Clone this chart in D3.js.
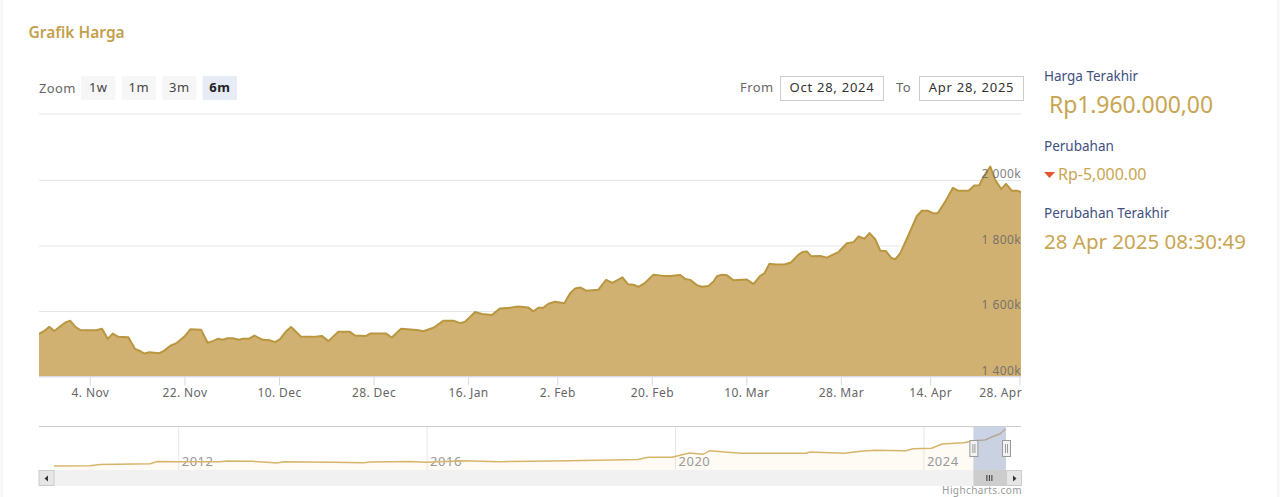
<!DOCTYPE html>
<html><head><meta charset="utf-8">
<script src="https://cdn.jsdelivr.net/npm/d3@7"></script>
<style>
html,body{margin:0;padding:0;background:#f7f7f7;overflow:hidden}
svg{display:block}
text{font-family:"Noto Sans",sans-serif}
.axis path{display:none}
</style></head><body><svg id="c" width="1280" height="497"></svg>
<script>
const sessionIndex=[0,1.31,2.26,3.21,4.49,5.44,6.26,7.21,8.17,9.25,11.16,12.3,13.39,14.34,15.4,17.31,18.59,19.4,20.36,21.31,23.21,24.17,25.31,26.4,27.98,29.12,31.16,32.43,33.39,34.34,35.29,36.24,37.2,38.34,39.21,40.24,41.31,42.91,44.17,45.25,46.2,47.35,48.3,50.15,52.55,54.15,55.41,57.31,59.41,60.49,62.59,63.35,66.4,67.48,69.25,72.24,73.5,75.4,77.31,79.35,80.49,81.44,83.35,84.62,86.53,88.11,90.01,91.6,93.44,94.45,95.41,96.36,97.31,98.59,100.36,101.44,102.4,103.35,104.49,106.83,108.3,109.5,111.4,112.43,113.5,114.45,115.72,117.31,118.91,120.5,122.4,123.35,124.3,125.58,126.53,127.79,128.75,129.39,130.34,131.3,132.55,135.1,136.36,137.63,138.45,139.4,140.49,142.4,143.49,144.93,145.69,146.53,147.35,149.06,150.34,151.6,152.55,154.15,155.41,156.36,157.5,158.45,159.54,160.5,161.58,162.59,163.35,164.3,165.88,167.48,168.43,169.58,170.64,171.48,172.87,174.34,175.4,177.31,178.4,179.35,180.17,181.45,182.4,183.54,184.44,185.58,186.53,187.48];
const priceK=[1528,1539,1552,1539,1555,1566,1570,1552,1542,1541,1541,1546,1515,1531,1521,1520,1484,1479,1470,1474,1471,1479,1494,1501,1522,1544,1543,1503,1508,1515,1512,1517,1517,1512,1515,1515,1525,1512,1511,1505,1514,1538,1551,1522,1521,1524,1508,1537,1537,1525,1524,1531,1531,1519,1546,1542,1538,1549,1570,1570,1563,1567,1597,1591,1588,1608,1610,1614,1611,1599,1610,1610,1622,1628,1624,1654,1669,1672,1662,1665,1695,1686,1703,1682,1680,1674,1686,1711,1708,1707,1710,1698,1695,1679,1674,1676,1690,1706,1711,1709,1694,1696,1682,1707,1715,1744,1742,1743,1748,1772,1780,1782,1767,1768,1763,1773,1780,1807,1810,1828,1821,1838,1819,1784,1783,1762,1758,1776,1832,1890,1906,1906,1898,1899,1934,1976,1967,1967,1983,1984,2010,2041,2000,1972,1988,1967,1967,1962];
const xTickIndex=[10,28,46,64,82,99,117,135,153,170,187];
const xTickLabels=["4. Nov","22. Nov","10. Dec","28. Dec","16. Jan","2. Feb","20. Feb","10. Mar","28. Mar","14. Apr","28. Apr"];
const yTicks=[1400,1600,1800,2000];
const yTickLabels=["1 400k","1 600k","1 800k","2 000k"];
const navYears=[2010,2010.58,2010.74,2011.55,2011.66,2011.98,2012.67,2012.79,2013.2,2013.43,2013.59,2013.69,2014.49,2014.98,2015.09,2015.73,2016,2016.59,2017.18,2018.29,2019.4,2019.57,2019.95,2020.23,2020.45,2020.56,2021.06,2021.61,2022.11,2022.17,2022.72,2022.99,2023.22,2023.72,2023.83,2024.13,2024.3,2024.65,2024.8,2024.99,2025.15,2025.23,2025.32];
const navPrices=[480,492,540,572,660,652,652,680,668,628,600,652,628,612,640,660,628,692,652,692,740,828,828,1000,948,1092,988,988,988,1040,988,1068,1108,1092,1172,1188,1360,1412,1492,1520,1692,1760,1960];
const navTickYears=[2012,2016,2020,2024];
const rangeButtons=["1w","1m","3m","6m"];

const gold="#c9a552",goldLine="#b9963f",goldFill="#ceae6d",navy="#41507f",grey="#666";
const svg=d3.select("#c");
const M={l:39,r:1021,t:114,b:376.5};
const N={l:39,r:1021,t:427,b:470,sl:54,sr:1006};

// card
svg.append("rect").attr("x",3).attr("y",-20).attr("width",1274).attr("height",540).attr("rx",18).attr("fill","#fff");
svg.append("text").attr("x",28.5).attr("y",37.5).attr("font-size",15.5).attr("font-weight",600).attr("fill","#c49f4c").text("Grafik Harga");

// range selector
svg.append("text").attr("x",39).attr("y",93).attr("font-size",13).attr("letter-spacing",.4).attr("fill",grey).text("Zoom");
const btnX=d3.scaleBand().domain(rangeButtons).range([81,237]).paddingInner(.15);
const btn=svg.selectAll("g.btn").data(rangeButtons).join("g").attr("class","btn").attr("transform",d=>`translate(${btnX(d)},76)`);
btn.append("rect").attr("width",btnX.bandwidth()).attr("height",24).attr("rx",2).attr("fill",d=>d==="6m"?"#e6ebf5":"#f6f6f7");
btn.append("text").attr("x",btnX.bandwidth()/2).attr("y",16).attr("text-anchor","middle").attr("font-size",13).attr("letter-spacing",.5)
  .attr("font-weight",d=>d==="6m"?700:400).attr("fill",d=>d==="6m"?"#222":"#444").text(d=>d);

// date inputs
[["From",740,780,103,"Oct 28, 2024"],["To",896,919,104,"Apr 28, 2025"]].forEach(([lab,lx,bx,bw,val])=>{
  svg.append("text").attr("x",lx).attr("y",92).attr("font-size",13).attr("letter-spacing",.4).attr("fill",grey).text(lab);
  svg.append("rect").attr("x",bx+.5).attr("y",76.5).attr("width",bw).attr("height",24).attr("fill","#fff").attr("stroke","#ccc");
  svg.append("text").attr("x",bx+bw/2+.5).attr("y",92).attr("text-anchor","middle").attr("font-size",13).attr("letter-spacing",.75).attr("fill","#333").text(val);
});

// main chart
const x=d3.scaleLinear().domain([0.3,187.3]).range([M.l,M.r]);
const y=d3.scaleLinear().domain([1400,2000]).range([M.b,180]);
svg.append("defs").append("clipPath").attr("id","plot").append("rect").attr("x",M.l).attr("y",M.t).attr("width",M.r-M.l).attr("height",M.b-M.t);
svg.append("line").attr("x1",M.l).attr("x2",M.r).attr("y1",M.t).attr("y2",M.t).attr("stroke","#e6e6e6");
const grid=svg.append("g").attr("class","axis").attr("transform",`translate(${M.l},0)`)
  .call(d3.axisRight(y).tickValues(yTicks).tickSize(M.r-M.l).tickFormat(""));
grid.selectAll("line").attr("stroke","#e6e6e6");

const pts=sessionIndex.map((s,i)=>[s,priceK[i]]);
const g=svg.append("g").attr("clip-path","url(#plot)");
g.append("path").datum(pts).attr("fill",goldFill).attr("fill-opacity",.97)
  .attr("d",d3.area().x(d=>x(d[0])).y0(y(1400)).y1(d=>y(d[1])));
g.append("path").datum(pts).attr("fill","none").attr("stroke",goldLine).attr("stroke-width",2).attr("stroke-linejoin","round")
  .attr("d",d3.line().x(d=>x(d[0])).y(d=>y(d[1])));

const xa=svg.append("g").attr("class","axis").attr("transform",`translate(0,${M.b})`)
  .call(d3.axisBottom(x).tickValues(xTickIndex).tickSize(9).tickPadding(3).tickFormat((d,i)=>xTickLabels[i]));
xa.selectAll("line").attr("stroke","#d5dae6");
xa.selectAll("text").attr("font-size",12).attr("letter-spacing",.4).attr("fill",grey).style("font-family",'"Noto Sans"');
xa.selectAll(".tick").filter((d,i)=>i===xTickLabels.length-1).select("text").attr("text-anchor","end").attr("dx",M.r-x(187)+.5);
svg.append("line").attr("x1",M.l).attr("x2",M.r).attr("y1",M.b).attr("y2",M.b).attr("stroke","#d8dce6");

const ya=svg.append("g").attr("class","axis").attr("transform",`translate(${M.r},0)`)
  .call(d3.axisLeft(y).tickValues(yTicks).tickSize(0).tickPadding(0).tickFormat((d,i)=>yTickLabels[i]));
ya.selectAll("text").attr("font-size",12).attr("letter-spacing",.4).attr("fill",grey).attr("fill-opacity",.85).attr("dy","-2.4").style("font-family",'"Noto Sans"');

// navigator
const nx=d3.scaleLinear().domain([2010,2025.33]).range([N.sl,N.sr]);
const ny=d3.scaleLinear().domain([320,2040]).range([N.b,N.t]);
const npts=navYears.map((v,i)=>[v,navPrices[i]]);
svg.append("path").datum(npts).attr("fill","#fdfbf4").attr("d",d3.area().x(d=>nx(d[0])).y0(N.b).y1(d=>ny(d[1])));
const na=svg.append("g").attr("class","axis").attr("transform",`translate(0,${N.b})`)
  .call(d3.axisTop(nx).tickValues(navTickYears).tickSize(N.b-N.t).tickPadding(0).tickFormat(d3.format("d")));
na.selectAll("line").attr("stroke","#e6e6e6");
na.selectAll("text").attr("font-size",13).attr("letter-spacing",.5).attr("fill","#999").attr("text-anchor","start")
  .attr("transform","translate(3,0)").attr("y",-4.5).style("font-family",'"Noto Sans"');
svg.append("path").datum(npts).attr("fill","none").attr("stroke","#d6b56a").attr("stroke-width",1.5).attr("d",d3.line().x(d=>nx(d[0])).y(d=>ny(d[1])));
const selL=nx(navYears[navYears.length-1])-32, selR=N.sr;
svg.append("rect").attr("x",selL).attr("y",N.t).attr("width",selR-selL).attr("height",N.b-N.t).attr("fill","#8c9ec9").attr("fill-opacity",.45);
svg.append("line").attr("x1",N.l).attr("x2",N.r).attr("y1",N.t-.5).attr("y2",N.t-.5).attr("stroke","#ccc");
// scrollbar
svg.append("rect").attr("x",N.l).attr("y",N.b).attr("width",N.r-N.l).attr("height",16).attr("fill","#f1f1f1");
svg.append("rect").attr("x",selL).attr("y",N.b).attr("width",selR-selL).attr("height",16).attr("fill","#cdcdcd");
[selL+13.5,selL+16,selL+18.5].forEach(v=>svg.append("line").attr("x1",v).attr("x2",v).attr("y1",N.b+5).attr("y2",N.b+11).attr("stroke","#333"));
[[N.l-.5,"M48,475.5 L48,481.5 L44.5,478.5Z"],[N.sr,"M1013,475.5 L1013,481.5 L1016.5,478.5Z"]].forEach(([bx,p])=>{
  svg.append("rect").attr("x",bx+.5).attr("y",N.b+.5).attr("width",15).attr("height",15).attr("fill","#e6e6e6").attr("stroke","#ccc");
  svg.append("path").attr("d",p).attr("fill","#333");
});
// handles
[selL,selR].forEach(v=>{
  svg.append("rect").attr("x",v-3.5).attr("y",440.5).attr("width",8).attr("height",16).attr("fill","#f2f2f2").attr("stroke","#999");
  [v-1,v+1].forEach(t=>svg.append("line").attr("x1",t+.5).attr("x2",t+.5).attr("y1",444).attr("y2",453).attr("stroke","#999"));
});
svg.append("text").attr("x",1022).attr("y",494).attr("text-anchor","end").attr("font-size",10).attr("letter-spacing",.4).attr("fill","#999").text("Highcharts.com");

// side panel
const side=[["Harga Terakhir",1044,81,13.5,navy,0],["Rp1.960.000,00",1049,113,23,gold,-.1],["Perubahan",1044,151,13.5,navy,0],["Rp-5,000.00",1058,180,16,gold,0],["Perubahan Terakhir",1044,218,13.5,navy,0],["28 Apr 2025 08:30:49",1044,249,20.5,gold,0]];
side.forEach(([t,a,b,s,c,ls])=>svg.append("text").attr("x",a).attr("y",b).attr("font-size",s).attr("letter-spacing",ls).attr("fill",c).text(t));
svg.append("path").attr("d",d3.line()([[1044,172],[1055,172],[1049.5,178]])+"Z").attr("fill","#e4572e");
</script></body></html>
